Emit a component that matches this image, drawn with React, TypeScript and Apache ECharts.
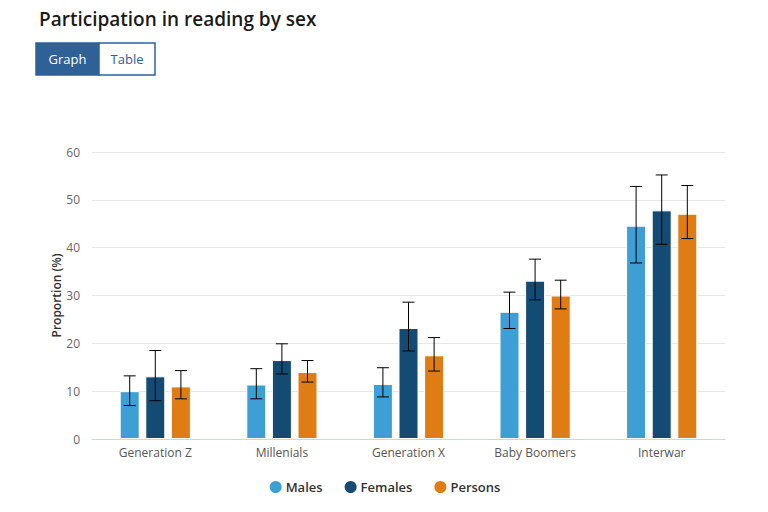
import React, { useEffect, useRef } from 'react'
import * as echarts from 'echarts'

const categories = ['Generation Z', 'Millenials', 'Generation X', 'Baby Boomers', 'Interwar']
const seriesNames = ['Males', 'Females', 'Persons']
const colors = ['#3d9fd3', '#144b73', '#e07c14']

const males = [10.0, 11.4, 11.5, 26.6, 44.6]
const malesLow = [7.0, 8.4, 8.8, 23.1, 36.8]
const malesHigh = [13.2, 14.7, 14.9, 30.7, 52.8]

const females = [13.1, 16.5, 23.2, 33.1, 47.8]
const femalesLow = [8.0, 13.6, 18.4, 29.1, 40.7]
const femalesHigh = [18.5, 19.9, 28.6, 37.6, 55.2]

const persons = [11.0, 14.0, 17.5, 30.0, 47.1]
const personsLow = [8.4, 11.9, 14.2, 27.2, 41.9]
const personsHigh = [14.3, 16.4, 21.2, 33.2, 53.0]

const yTicks = [0, 10, 20, 30, 40, 50, 60]

const FONT = "'Open Sans', sans-serif"
const BAR_WIDTH = 20
const BAR_GAP = 5.6
const BTN_BLUE = '#2f6096'

const App: React.FC = () => {
  const chartRef = useRef<HTMLDivElement>(null)

  useEffect(() => {
    if (!chartRef.current) return
    const chart = echarts.init(chartRef.current, undefined, { renderer: 'svg' })

    const values = [males, females, persons]
    const lows = [malesLow, femalesLow, personsLow]
    const highs = [malesHigh, femalesHigh, personsHigh]

    const barSeries = seriesNames.map((name, i) => ({
      name,
      type: 'bar' as const,
      barWidth: BAR_WIDTH,
      barGap: (BAR_GAP / BAR_WIDTH) * 100 + '%',
      itemStyle: { color: colors[i], borderColor: '#ffffff', borderWidth: 1 },
      data: values[i]
    }))

    // error bars drawn on top of each bar
    const errorSeries = seriesNames.map((name, i) => ({
      name: name + ' error',
      type: 'custom' as const,
      z: 5,
      silent: true,
      data: categories.map((_, j) => [j, lows[i][j], highs[i][j]]),
      renderItem: (_params: any, api: any) => {
        const idx = api.value(0)
        const top = api.coord([idx, api.value(2)])
        const bottom = api.coord([idx, api.value(1)])
        const x = top[0] + (i - 1) * (BAR_WIDTH + BAR_GAP)
        const half = 6
        const style = { stroke: '#000000', lineWidth: 1 }
        return {
          type: 'group',
          children: [
            { type: 'line', shape: { x1: x, y1: top[1], x2: x, y2: bottom[1] }, style },
            { type: 'line', shape: { x1: x - half, y1: top[1], x2: x + half, y2: top[1] }, style },
            { type: 'line', shape: { x1: x - half, y1: bottom[1], x2: x + half, y2: bottom[1] }, style }
          ]
        }
      }
    }))

    const option: echarts.EChartsOption = {
      animation: false,
      backgroundColor: '#ffffff',
      textStyle: { fontFamily: FONT },
      title: {
        text: 'Participation in reading by sex',
        left: 34,
        top: 4,
        textStyle: { fontFamily: FONT, fontSize: 19, fontWeight: 600, color: '#1a1a1a' }
      },
      graphic: [
        {
          type: 'rect',
          shape: { x: 36, y: 43, width: 63, height: 32 },
          style: { fill: BTN_BLUE, stroke: BTN_BLUE, lineWidth: 1.5 }
        },
        {
          type: 'rect',
          shape: { x: 99, y: 43, width: 56, height: 32 },
          style: { fill: '#ffffff', stroke: BTN_BLUE, lineWidth: 1.5 }
        },
        {
          type: 'text',
          x: 67.5,
          y: 59,
          style: {
            text: 'Graph', fill: '#ffffff', font: `13px ${FONT}`,
            align: 'center', verticalAlign: 'middle'
          }
        },
        {
          type: 'text',
          x: 127,
          y: 59,
          style: {
            text: 'Table', fill: BTN_BLUE, font: `13px ${FONT}`,
            align: 'center', verticalAlign: 'middle'
          }
        }
      ],
      legend: {
        data: seriesNames,
        bottom: 12,
        left: 'center',
        icon: 'circle',
        itemWidth: 14,
        itemHeight: 14,
        itemGap: 20,
        textStyle: {
          fontFamily: FONT, fontSize: 13, fontWeight: 600, color: '#333333',
          padding: [0, 0, 0, -2]
        }
      },
      grid: { left: 92, right: 43, top: 152, bottom: 73 },
      xAxis: {
        type: 'category',
        data: categories,
        axisLine: { lineStyle: { color: '#ccd6eb' } },
        axisTick: { show: false },
        axisLabel: { fontFamily: FONT, fontSize: 12, color: '#555555', margin: 7 }
      },
      yAxis: {
        type: 'value',
        min: yTicks[0],
        max: yTicks[yTicks.length - 1],
        interval: 10,
        name: 'Proportion (%)',
        nameLocation: 'middle',
        nameGap: 30,
        nameMoveOverlap: false,
        nameTextStyle: { fontFamily: FONT, fontSize: 12, fontWeight: 600, color: '#333333' },
        axisLine: { show: false },
        axisTick: { show: false },
        axisLabel: { fontFamily: FONT, fontSize: 12, color: '#666666', margin: 12 },
        splitLine: { lineStyle: { color: '#e6e6e6' } }
      } as any,
      series: [...barSeries, ...errorSeries] as any
    }

    chart.setOption(option)

    return () => {
      chart.dispose()
    }
  }, [])

  return (
    <div
      ref={chartRef}
      style={{ position: 'fixed', left: 0, top: 0, width: 768, height: 512 }}
    />
  )
}

export default App
